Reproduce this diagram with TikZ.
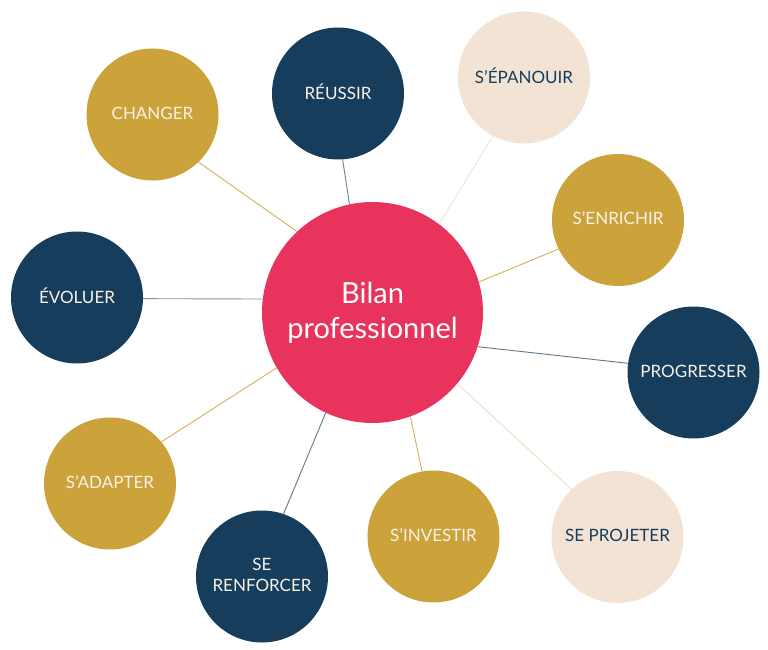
\documentclass[tikz,border=0pt]{standalone}
\usepackage{fontspec}
\setmainfont{Lato}
\usepackage{xcolor}
\usetikzlibrary{positioning}

\definecolor{gold}{HTML}{CCA33B}
\definecolor{navy}{HTML}{173D5C}
\definecolor{beige}{HTML}{F3E3D5}
\definecolor{rose}{HTML}{E8335C}
\definecolor{cream}{HTML}{F8F1E8}

\begin{document}
\begin{tikzpicture}[x=1pt, y=-1pt,
  bubble/.style={circle, minimum size=132pt, inner sep=0pt, align=center,
                 text depth=3pt, font=\fontsize{17}{20.5}\selectfont},
  goldbub/.style={bubble, fill=gold, text=cream},
  navybub/.style={bubble, fill=navy, text=cream},
  beigebub/.style={bubble, fill=beige, text=navy},
  link/.style={line width=0.9pt}]
  \useasboundingbox (0,0) rectangle (768,650);

  % centre
  \node[circle, fill=rose, minimum size=221pt, inner sep=0pt, align=center, text=white,
        font=\fontsize{29}{35}\selectfont] (bilan) at (372.5,312.5) {Bilan\\professionnel};

  % bubbles around
  \node[goldbub]  (changer)    at (152.5,114.5) {CHANGER};
  \node[navybub]  (reussir)    at (338,93.5)    {RÉUSSIR};
  \node[beigebub] (epanouir)   at (524,77.5)    {S’ÉPANOUIR};
  \node[goldbub]  (enrichir)   at (618,220)     {S’ENRICHIR};
  \node[navybub]  (progresser) at (693.5,372.5) {PROGRESSER};
  \node[beigebub] (projeter)   at (617.5,537)   {SE PROJETER};
  \node[goldbub]  (investir)   at (433.5,536.5) {S’INVESTIR};
  \node[navybub]  (renforcer)  at (262,576.5)   {SE\\RENFORCER};
  \node[goldbub]  (adapter)    at (110,483.5)   {S’ADAPTER};
  \node[navybub]  (evoluer)    at (77,297.5)    {ÉVOLUER};

  % links
  \draw[link, gold!85]  (bilan.133)  -- (changer.-46);
  \draw[link, navy!65]  (bilan.102)  -- (reussir.-86);
  \draw[link, beige]    (bilan.53)   -- (epanouir.-118);
  \draw[link, gold!85]  (bilan.16)   -- (enrichir.206);
  \draw[link, navy!70]  (bilan.-18.6) -- (progresser.172.6);
  \draw[link, beige!90!gold] (bilan.-40.6) -- (projeter.134);
  \draw[link, gold!85]  (bilan.-70)  -- (investir.100);
  \draw[link, navy!70]  (bilan.-115) -- (renforcer.71);
  \draw[link, gold!85]  (bilan.210.5) -- (adapter.39);
  \draw[link, navy!55]  (bilan.173.2) -- (evoluer.-1.6);
\end{tikzpicture}
\end{document}
